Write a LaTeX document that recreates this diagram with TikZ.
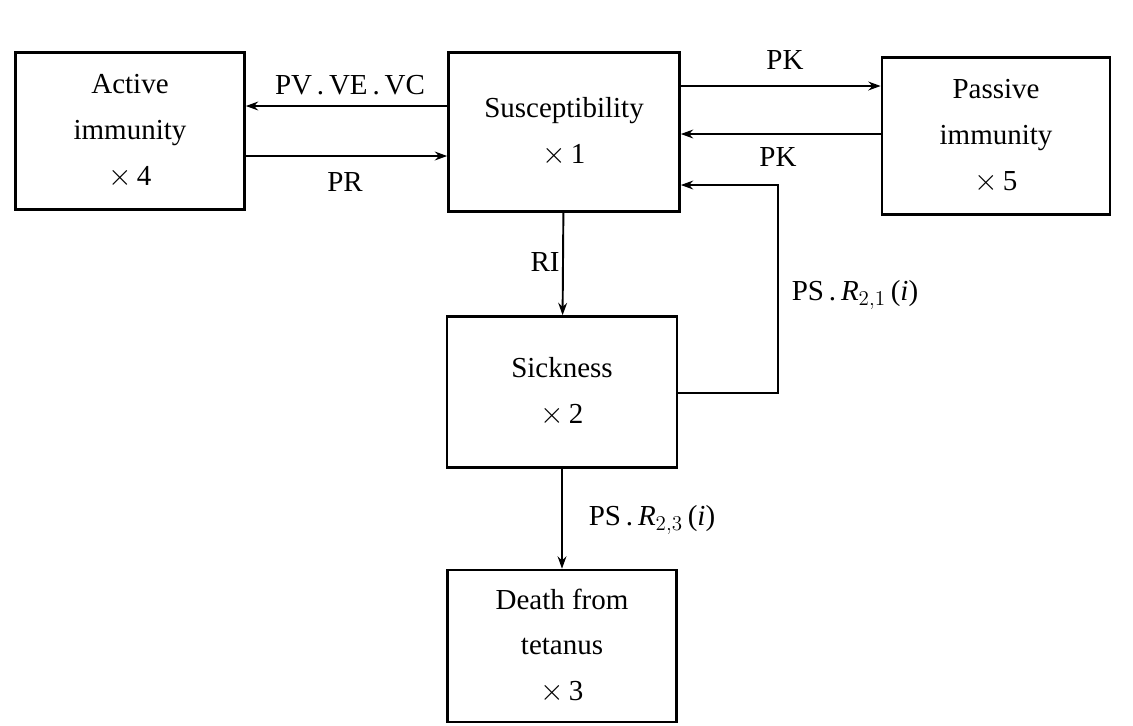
\documentclass[tikz,border=0pt]{standalone}
\usepackage{fontspec}
\setmainfont{Liberation Serif}
\usetikzlibrary{arrows.meta}
\begin{document}
\begin{tikzpicture}[x=0.02cm,y=-0.02cm,
  box/.style={draw,line width=1.5pt,inner sep=0pt,align=center,font=\fontsize{16.5}{26}\selectfont},
  arr/.style={-{Stealth[length=7pt,width=5pt]},line width=1.1pt},
  lab/.style={font=\fontsize{16.5}{18}\selectfont}]
\useasboundingbox (0,0) rectangle (1133,725);
\node[box,minimum width=229*0.02cm,minimum height=157*0.02cm] (act) at (130,131) {Active\\immunity\\$\times$\,4};
\node[box,minimum width=231*0.02cm,minimum height=159*0.02cm] (sus) at (564,132) {Susceptibility\\$\times$\,1};
\node[box,minimum width=228*0.02cm,minimum height=157*0.02cm] (pas) at (996,136) {Passive\\immunity\\$\times$\,5};
\node[box,minimum width=230*0.02cm,minimum height=151*0.02cm] (sic) at (562,392) {Sickness\\$\times$\,2};
\node[box,minimum width=229*0.02cm,minimum height=152*0.02cm] (dea) at (562,646) {Death from\\tetanus\\$\times$\,3};
\draw[arr] (sus.west|-0,106) -- (act.east|-0,106);
\draw[arr] (act.east|-0,156) -- (sus.west|-0,156);
\draw[arr] (sus.east|-0,86) -- (pas.west|-0,86);
\draw[arr] (pas.west|-0,134) -- (sus.east|-0,134);
\draw[arr] (sus) -- (sic);
\draw[arr] (sic) -- (dea);
\coordinate (c1) at (778,393);
\coordinate (c2) at (778,185);
\draw[arr] (sic.east|-c1) -- (c1) -- (c2) -- (sus.east|-c2);
\node[lab] at (350,85) {PV\,.\,VE\,.\,VC};
\node[lab] at (345,182) {PR};
\node[lab] at (785,60) {PK};
\node[lab] at (778,157) {PK};
\node[lab] at (545,262) {RI};
\node[lab] at (855,295) {PS\,.\,\textit{R}$_{2,1}$\,(\textit{i})};
\node[lab] at (652,520) {PS\,.\,\textit{R}$_{2,3}$\,(\textit{i})};
\end{tikzpicture}
\end{document}
